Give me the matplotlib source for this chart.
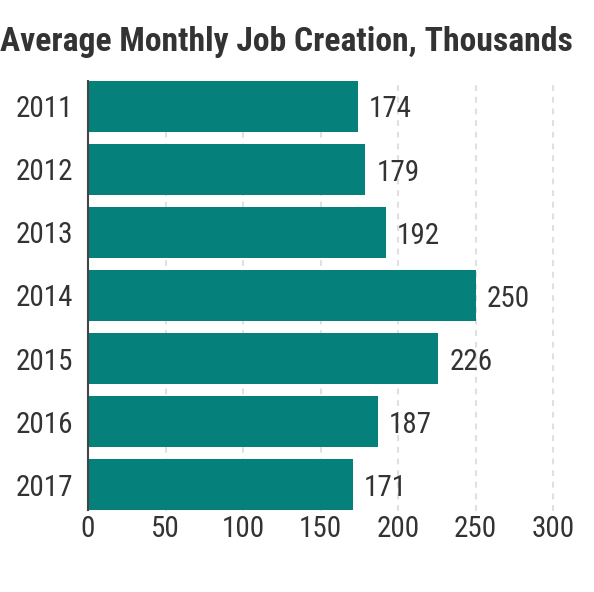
import matplotlib
matplotlib.use('Agg')
from matplotlib import pyplot as plt

years = ['2011', '2012', '2013', '2014', '2015', '2016', '2017']
jobs = [174, 179, 192, 250, 226, 187, 171]
xticks = [0, 50, 100, 150, 200, 250, 300]

plt.rcParams['font.family'] = ['Roboto Condensed', 'DejaVu Sans']
text_color = '#333333'
bar_color = '#05807a'

fig = plt.figure(figsize=(5.94, 5.92), dpi=100)
ax = fig.add_axes([88 / 594, 1 - 510.5 / 592, 496 / 594, 430 / 592])

pos = list(range(len(years)))
ax.barh(pos, jobs, height=0.82, color=bar_color, zorder=2)

for y, v in zip(pos, jobs):
    ax.annotate(str(v), xy=(v, y), xytext=(8, -8), textcoords='offset points',
                va='baseline', ha='left', fontsize=21, color=text_color)

ax.set_ylim(len(years) - 1 + 0.41, -0.41)
ax.set_xlim(0, 320)
ax.set_yticks(pos)
ax.set_yticklabels(years)
ax.set_xticks(xticks)

ax.tick_params(axis='both', length=0, labelsize=21, colors=text_color)
ax.tick_params(axis='y', pad=11)
ax.tick_params(axis='x', pad=3)

for side in ['top', 'right', 'bottom']:
    ax.spines[side].set_visible(False)
ax.spines['left'].set_color('#444444')
ax.spines['left'].set_linewidth(1.5)
ax.spines['left'].set_zorder(3)

ax.xaxis.grid(True, color='#e0e0e0', linewidth=1.5, linestyle=(0, (2.8, 2.8)), zorder=0)
ax.set_axisbelow(True)

fig.text(0.0, 1 - 51 / 592, 'Average Monthly Job Creation, Thousands',
         fontsize=24.2, fontweight='bold', color=text_color, ha='left', va='baseline')

fig.savefig('out.png')
